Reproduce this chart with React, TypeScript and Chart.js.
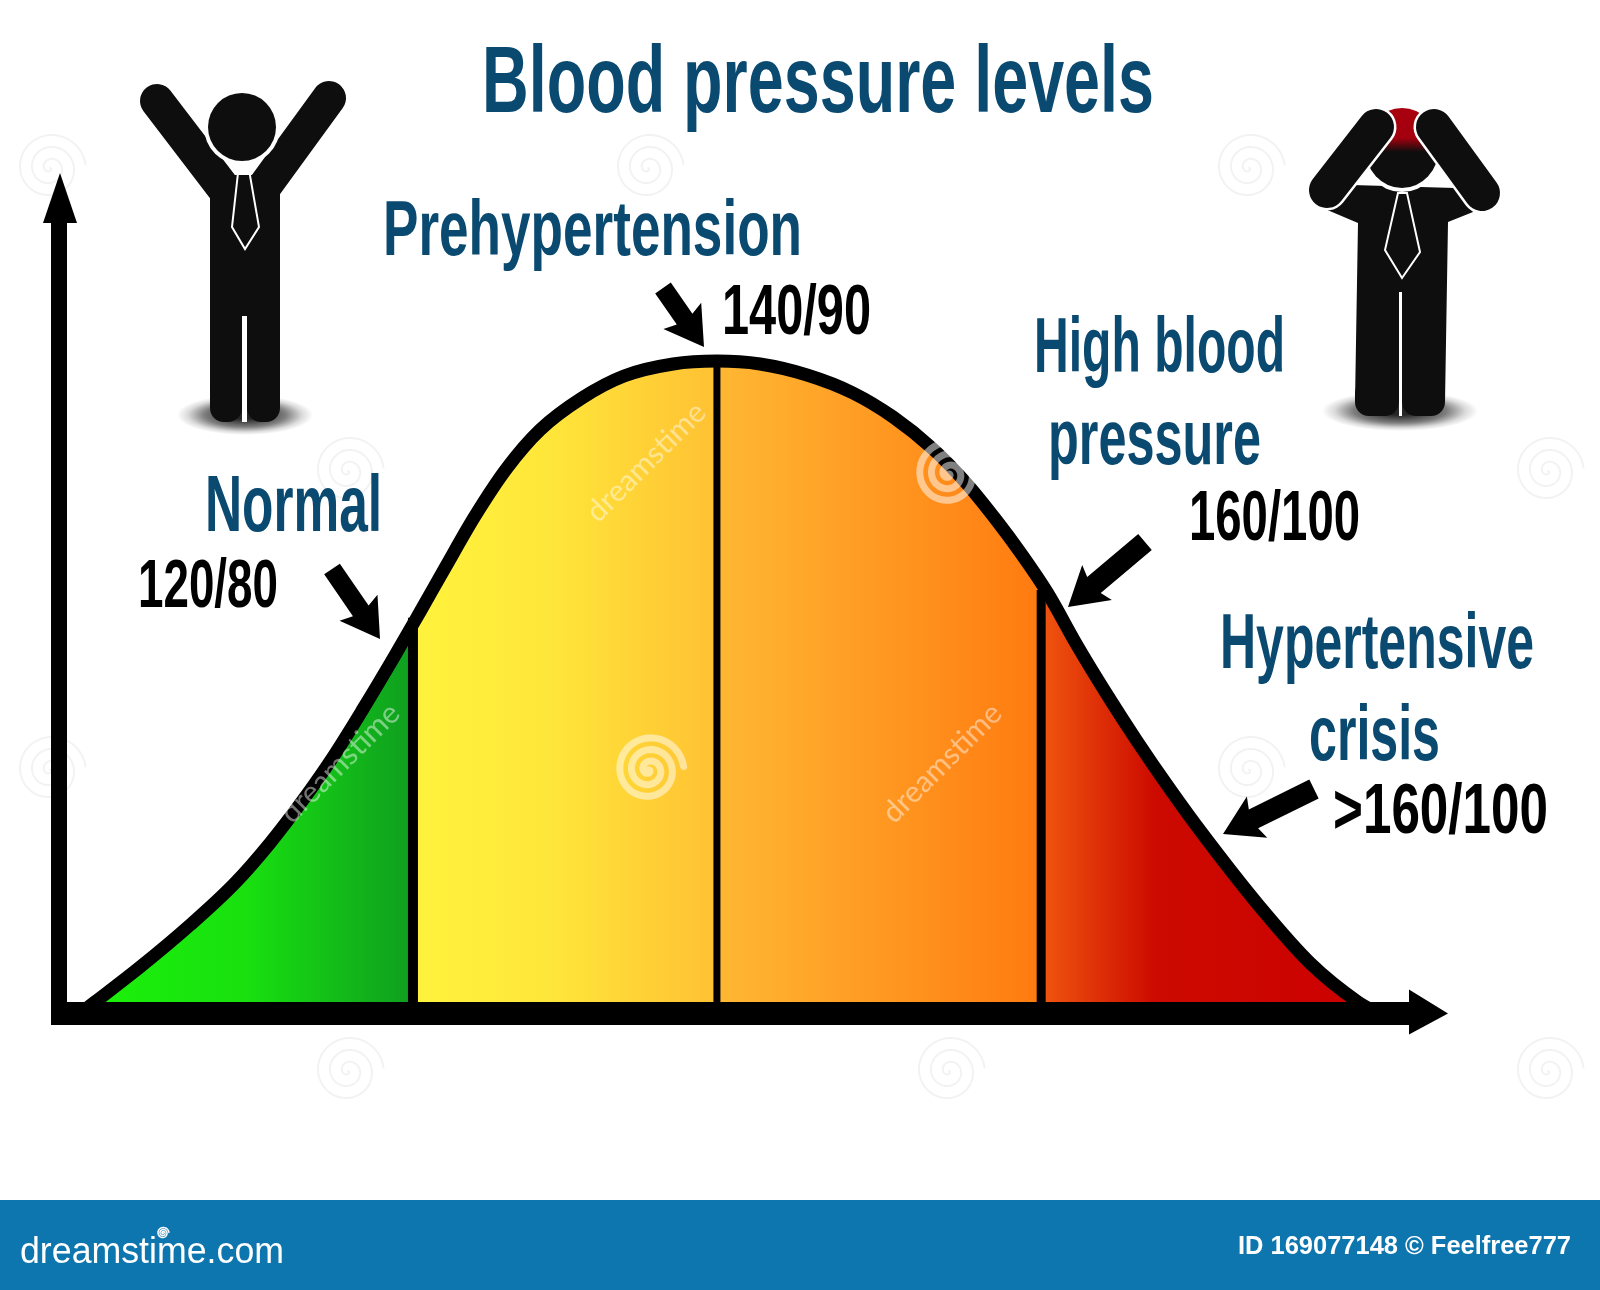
import React, { useEffect, useRef } from "react";
import { Chart, registerables } from "chart.js";

Chart.register(...registerables);

// Bell curve (x, y in chart units 0-100)
const curveX = [1.55, 2.66, 6.0, 9.7, 13.03, 15.62, 18.06, 20.28, 22.5, 24.8, 26.72, 28.57, 30.79, 33.16, 35.6, 38.71, 41.82, 45.45, 48.7, 51.89, 55.37, 58.77, 61.73, 64.69, 67.21, 69.43, 71.13, 73.13, 75.43, 77.64, 79.79, 82.23, 84.6, 88.9, 92.6, 96.15, 97.63];
const curveY = [0, 1.45, 5.87, 11.18, 16.49, 21.54, 26.97, 32.41, 38.47, 45.04, 50.73, 56.29, 62.85, 68.92, 73.72, 77.76, 80.54, 82.06, 82.43, 82.06, 80.67, 78.4, 75.37, 71.32, 66.9, 62.22, 58.31, 53.25, 46.3, 40.11, 34.43, 28.36, 22.8, 13.46, 6.38, 1.45, 0];
const dividerX = [26.2, 48.7, 72.7];
const dividerTop = [50, 82, 53.5];
const dividerWidths = [10, 7, 9];

const zoneStops = [
  [[0, "#1CF20A"], [0.5, "#18E00F"], [1, "#0F9E20"]],
  [[0, "#FFF33C"], [0.45, "#FFE63A"], [1, "#FFC133"]],
  [[0, "#FFB833"], [1, "#FF7A10"]],
  [[0, "#F0560F"], [0.34, "#CC0A00"], [1, "#CC0000"]],
];

const titleText = "Blood pressure levels";
const zoneLabels = ["Prehypertension", "Normal", "High blood", "pressure", "Hypertensive", "crisis"];
const valueLabels = ["140/90", "120/80", "160/100", ">160/100"];
const footerLeft = "dreamstime.com";
const footerRight = "ID 169077148 © Feelfree777";
const watermark = "dreamstime";

const FONT = '"Liberation Sans Narrow", "Liberation Sans", sans-serif';
const BLUE = "#0B4A70";

// text, left, right, baseline, font size
const textLayout: [string, number, number, number, number, string, string][] = [
  [titleText, 482, 1154, 112, 94, BLUE, "bold"],
  [zoneLabels[0], 383, 802, 255, 78, BLUE, "bold"],
  [zoneLabels[1], 205, 382, 531, 80, BLUE, "bold"],
  [zoneLabels[2], 1034, 1285, 372, 78, BLUE, "bold"],
  [zoneLabels[3], 1048, 1261, 464, 78, BLUE, "bold"],
  [zoneLabels[4], 1220, 1534, 668, 78, BLUE, "bold"],
  [zoneLabels[5], 1309, 1440, 760, 78, BLUE, "bold"],
  [valueLabels[0], 722, 871, 334, 70, "#000", "bold"],
  [valueLabels[1], 138, 278, 607, 68, "#000", "bold"],
  [valueLabels[2], 1189, 1360, 540, 70, "#000", "bold"],
  [valueLabels[3], 1333, 1548, 833, 70, "#000", "bold"],
  [footerLeft, 20, 284, 1263, 36, "#fff", "normal"],
  [footerRight, 1238, 1571, 1254, 26, "#fff", "bold"],
];

const calloutArrows = [
  [332, 569, 380, 639],
  [663, 288, 704, 347],
  [1145, 542, 1068, 607],
  [1314, 789, 1223, 834],
];

function fitText(ctx: CanvasRenderingContext2D, t: string, l: number, r: number, b: number, size: number, color: string, weight: string) {
  ctx.save();
  ctx.font = `${weight} ${size}px ${FONT}`;
  ctx.fillStyle = color;
  ctx.textBaseline = "alphabetic";
  ctx.textAlign = "left";
  const w = ctx.measureText(t).width;
  ctx.translate(l, b);
  ctx.scale((r - l) / w, 1);
  ctx.fillText(t, 0, 0);
  ctx.restore();
}

function arrow(ctx: CanvasRenderingContext2D, x0: number, y0: number, x1: number, y1: number, sw: number, hl: number, hw: number) {
  const len = Math.hypot(x1 - x0, y1 - y0);
  ctx.save();
  ctx.translate(x0, y0);
  ctx.rotate(Math.atan2(y1 - y0, x1 - x0));
  ctx.fillStyle = "#000";
  ctx.beginPath();
  ctx.moveTo(0, -sw / 2);
  ctx.lineTo(len - hl, -sw / 2);
  ctx.lineTo(len - hl - 4, -hw / 2);
  ctx.lineTo(len, 0);
  ctx.lineTo(len - hl - 4, hw / 2);
  ctx.lineTo(len - hl, sw / 2);
  ctx.lineTo(0, sw / 2);
  ctx.closePath();
  ctx.fill();
  ctx.restore();
}

function spiral(ctx: CanvasRenderingContext2D, cx: number, cy: number, r: number, color: string, lw: number) {
  ctx.save();
  ctx.strokeStyle = color;
  ctx.lineWidth = lw;
  ctx.lineCap = "round";
  ctx.beginPath();
  for (let a = 0; a < Math.PI * 6; a += 0.15) {
    const rr = (r * a) / (Math.PI * 6);
    const px = cx + rr * Math.cos(a);
    const py = cy + rr * Math.sin(a);
    if (a === 0) ctx.moveTo(px, py);
    else ctx.lineTo(px, py);
  }
  ctx.stroke();
  ctx.restore();
}

function shadow(ctx: CanvasRenderingContext2D, cx: number, cy: number, rx: number, ry: number) {
  ctx.save();
  ctx.translate(cx, cy);
  ctx.scale(rx, ry);
  const g = ctx.createRadialGradient(0, 0, 0.2, 0, 0, 1);
  g.addColorStop(0, "rgba(0,0,0,0.85)");
  g.addColorStop(0.5, "rgba(0,0,0,0.5)");
  g.addColorStop(0.8, "rgba(0,0,0,0.14)");
  g.addColorStop(1, "rgba(0,0,0,0)");
  ctx.fillStyle = g;
  ctx.beginPath();
  ctx.arc(0, 0, 1, 0, Math.PI * 2);
  ctx.fill();
  ctx.restore();
}

function poly(ctx: CanvasRenderingContext2D, pts: number[][], close = true) {
  ctx.beginPath();
  pts.forEach((p, i) => (i ? ctx.lineTo(p[0], p[1]) : ctx.moveTo(p[0], p[1])));
  if (close) ctx.closePath();
}

function happyMan(ctx: CanvasRenderingContext2D) {
  shadow(ctx, 245, 415, 68, 20);
  ctx.save();
  const K = "#0E0E0E";
  ctx.strokeStyle = K;
  ctx.lineCap = "round";
  ctx.lineWidth = 34;
  poly(ctx, [[157, 101], [225, 190]], false);
  ctx.stroke();
  poly(ctx, [[329, 98], [262, 190]], false);
  ctx.stroke();
  ctx.fillStyle = K;
  ctx.fillRect(210, 175, 70, 232);
  ctx.beginPath();
  ctx.roundRect(210, 380, 32, 42, 14);
  ctx.roundRect(247, 380, 33, 42, 14);
  ctx.fill();
  ctx.fillStyle = "#fff";
  ctx.fillRect(242, 316, 5, 106);
  ctx.beginPath();
  ctx.arc(242, 127, 38, 0, Math.PI * 2);
  ctx.fill();
  ctx.fillStyle = K;
  ctx.beginPath();
  ctx.arc(242, 127, 34, 0, Math.PI * 2);
  ctx.fill();
  ctx.strokeStyle = "#fff";
  ctx.lineWidth = 2;
  ctx.lineCap = "butt";
  poly(ctx, [[239, 164], [248, 164], [259, 227], [245, 249], [232, 227]]);
  ctx.stroke();
  ctx.restore();
}

function stressedMan(ctx: CanvasRenderingContext2D) {
  shadow(ctx, 1400, 411, 78, 20);
  ctx.save();
  const K = "#0E0E0E";
  ctx.fillStyle = K;
  poly(ctx, [[1352, 185], [1455, 188], [1473, 212], [1448, 222], [1445, 402], [1355, 402], [1358, 223], [1325, 209]]);
  ctx.fill();
  ctx.beginPath();
  ctx.roundRect(1355, 380, 44, 36, 14);
  ctx.roundRect(1402, 380, 43, 36, 14);
  ctx.fill();
  ctx.fillStyle = "#fff";
  ctx.fillRect(1399, 292, 3, 124);
  ctx.beginPath();
  ctx.ellipse(1402, 148, 41, 44, 0, 0, Math.PI * 2);
  ctx.fill();
  const red = ctx.createLinearGradient(0, 108, 0, 152);
  red.addColorStop(0, "#A8000F");
  red.addColorStop(0.68, "#A4000E");
  red.addColorStop(1, "#0E0E0E");
  ctx.fillStyle = red;
  ctx.beginPath();
  ctx.ellipse(1402, 148, 37, 40, 0, 0, Math.PI * 2);
  ctx.fill();
  ctx.lineCap = "round";
  const arms = [[[1376, 127], [1327, 190]], [[1434, 127], [1482, 193]]];
  arms.forEach((a) => {
    ctx.strokeStyle = "#fff";
    ctx.lineWidth = 41;
    poly(ctx, a, false);
    ctx.stroke();
    ctx.strokeStyle = K;
    ctx.lineWidth = 36;
    poly(ctx, a, false);
    ctx.stroke();
  });
  ctx.strokeStyle = "#fff";
  ctx.lineWidth = 2;
  ctx.lineCap = "butt";
  poly(ctx, [[1398, 193], [1407, 193], [1420, 252], [1402, 278], [1385, 250]]);
  ctx.stroke();
  ctx.restore();
}

const decorations = {
  id: "decorations",
  beforeDatasetsDraw(chart: any) {
    const ctx = chart.ctx;
    [[50, 168], [648, 168], [1249, 168], [348, 471], [1548, 471], [50, 770], [1249, 770], [348, 1071], [949, 1071], [1548, 1071]].forEach(([x, y]) =>
      spiral(ctx, x, y, 36, "rgba(0,0,0,0.05)", 2)
    );
  },
  afterDraw(chart: any) {
    const ctx = chart.ctx;
    ctx.save();
    // corner of the axes
    ctx.fillStyle = "#fff";
    ctx.fillRect(40, 998, 11, 30);
    ctx.fillStyle = "#000";
    ctx.fillRect(51, 1002, 20, 23);
    const px = chart.scales.x.right;
    const py = chart.scales.x.top;
    const ax = chart.scales.y.left;
    const ay = chart.scales.y.top;
    poly(ctx, [[px - 1, py - 24], [px + 38, py], [px - 1, py + 21]]);
    ctx.fill();
    poly(ctx, [[ax - 16, ay + 1], [ax + 1, ay - 49], [ax + 18, ay + 1]]);
    ctx.fill();
    ctx.restore();

    // faint stock-photo marks on the coloured zones
    [[649, 770], [949, 474]].forEach(([x, y]) => {
      spiral(ctx, x, y, 35, "rgba(255,255,255,0.5)", 7);
    });
    [[653, 469], [347, 770], [949, 770]].forEach(([x, y]) => {
      ctx.save();
      ctx.translate(x, y);
      ctx.rotate(-Math.PI / 4);
      ctx.font = "30px Lato";
      ctx.textAlign = "center";
      ctx.fillStyle = "rgba(255,255,255,0.45)";
      ctx.fillText(watermark, 0, 0);
      ctx.restore();
    });

    calloutArrows.forEach((a, i) => arrow(ctx, a[0], a[1], a[2], a[3], i === 2 || i === 3 ? 21 : 19, 34, 46));
    happyMan(ctx);
    stressedMan(ctx);

    ctx.fillStyle = "#0E76AE";
    ctx.fillRect(0, 1200, 1600, 90);
    spiral(ctx, 163, 1233, 6, "#fff", 1.5);
    textLayout.forEach((t) => fitText(ctx, t[0], t[1], t[2], t[3], t[4], t[5], t[6]));
  },
};

function points(from: number, to: number) {
  const inside = curveX
    .map((x, i) => ({ x, y: curveY[i] }))
    .filter((p) => p.x > from && p.x < to);
  return inside;
}

function zone(i: number, pts: { x: number; y: number }[]) {
  return {
    label: `zone${i}`,
    data: pts,
    showLine: true,
    pointRadius: 0,
    borderWidth: 0,
    cubicInterpolationMode: "monotone",
    order: 5,
    fill: "origin",
    backgroundColor(c: any) {
      const chart = c.chart;
      const sx = chart.scales.x;
      if (!sx || !chart.chartArea) return "#888";
      const first = sx.getPixelForValue(pts[0].x);
      const last = sx.getPixelForValue(pts[pts.length - 1].x);
      if (!Number.isFinite(first) || !Number.isFinite(last)) return "#888";
      const g = chart.ctx.createLinearGradient(first, 0, last, 0);
      zoneStops[i].forEach((s: any) => g.addColorStop(s[0], s[1]));
      return g;
    },
  };
}

export default function App() {
  const ref = useRef<HTMLCanvasElement>(null);
  useEffect(() => {
    document.body.style.margin = "0";
    document.body.style.background = "#fff";
    const edges = [curveX[0], ...dividerX, curveX[curveX.length - 1]];
    const zones = edges.slice(0, -1).map((from, i) => {
      const to = edges[i + 1];
      const pts = points(from - 0.01, to + 0.01);
      if (i > 0) pts.unshift({ x: from, y: dividerTop[i - 1] });
      if (i < 3) pts.push({ x: to, y: dividerTop[i] });
      return zone(i, pts);
    });
    const dividers = dividerX.map((x, i) => ({
      label: `divider${i}`,
      data: [{ x, y: 0 }, { x, y: dividerTop[i] }],
      showLine: true,
      pointRadius: 0,
      borderColor: "#000",
      borderWidth: dividerWidths[i],
      order: 3,
    }));
    const chart = new Chart(ref.current!, {
      type: "scatter",
      data: {
        datasets: [
          ...zones,
          ...dividers,
          {
            label: "curve",
            data: curveX.map((x, i) => ({ x, y: curveY[i] })),
            showLine: true,
            pointRadius: 0,
            borderColor: "#000",
            borderWidth: 13,
            cubicInterpolationMode: "monotone",
            fill: false,
            order: 1,
          },
        ] as any,
      },
      options: {
        responsive: false,
        animation: false,
        events: [],
        layout: { padding: { left: 59, right: 190, top: 222, bottom: 276.5 } },
        plugins: { legend: { display: false }, tooltip: { enabled: false }, title: { display: false } },
        scales: {
          x: {
            type: "linear",
            min: 0,
            max: 100,
            ticks: { display: false },
            grid: { display: false, drawTicks: false },
            border: { display: true, color: "#000", width: 23, z: 1 },
          },
          y: {
            type: "linear",
            min: 0,
            max: 100,
            ticks: { display: false },
            grid: { display: false, drawTicks: false },
            border: { display: true, color: "#000", width: 16, z: 1 },
          },
        },
      } as any,
      plugins: [decorations],
    });
    return () => chart.destroy();
  }, []);
  return <canvas ref={ref} width={1600} height={1290} style={{ display: "block" }} />;
}
